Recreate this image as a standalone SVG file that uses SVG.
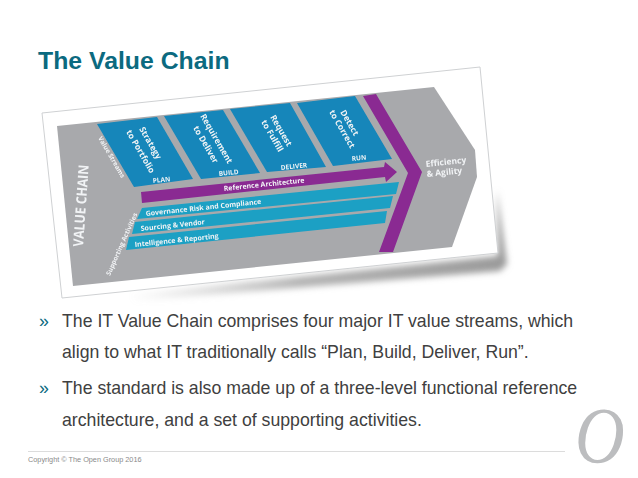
<svg xmlns="http://www.w3.org/2000/svg" width="638" height="478" viewBox="0 0 638 478">
<style>
text{font-family:"Liberation Sans",Arial,sans-serif}
.b{font-size:17.7px;fill:#404040}
.m{font-size:17.7px;fill:#0b6a80}
.o{font-family:"Open Sans","Noto Sans",sans-serif;font-weight:700;fill:#f1f3f5}
.stream{fill:#1286ba}
.bar{fill:#1ba0c4}
.pur{fill:#8a2a92}
</style>
<defs>
<filter id="sh" x="-10%" y="-20%" width="120%" height="140%"><feGaussianBlur stdDeviation="3"/></filter>
<filter id="soft" x="-5%" y="-5%" width="110%" height="110%"><feGaussianBlur stdDeviation="0.4"/></filter>
<linearGradient id="shg" x1="0" y1="0" x2="1" y2="0"><stop offset="0" stop-color="#bdbdbd" stop-opacity="0"/><stop offset="0.45" stop-color="#b4b4b4"/><stop offset="1" stop-color="#9a9a9a"/></linearGradient>
</defs>
<rect width="638" height="478" fill="#fff"/>
<text id="title" x="38" y="69" font-size="24.8" font-weight="700" fill="#0b6a80">The Value Chain</text>
<g id="card">
<polygon points="130,294 498,256 497,190 507,264 500,271 135,301" fill="url(#shg)" filter="url(#sh)"/>
<polygon points="42,113 480,67 498,253 62,298" fill="#fff" stroke="#cfd1d3" stroke-width="1"/>
<g filter="url(#soft)">
<g id="chain"><polygon points="57,126 434,87 475,150 477,177 452,247 73,286" fill="#a8a9ac"/>
<text class="o" font-size="14" font-weight="600" textLength="82" lengthAdjust="spacingAndGlyphs" transform="translate(83,247) rotate(-86)">VALUE CHAIN</text>
<text class="o" font-size="6.500" transform="translate(98,138) rotate(60)">Value Streams</text>
<text class="o" font-size="6.500" transform="translate(110,276) rotate(-66)">Supporting Activities</text></g>
<g id="plan"><polygon class="stream" points="97,124 157,117 193,179 134,187"/>
<text class="o" font-size="8.500" transform="translate(139,129) rotate(60)">Strategy</text>
<text class="o" font-size="8.500" transform="translate(126,132) rotate(60)">to Portfolio</text>
<text class="o" font-size="6.500" transform="translate(153,183) rotate(-6)">PLAN</text></g>
<g id="build"><polygon class="stream" points="164,116 223,110 260,173 201,179"/>
<text class="o" font-size="8.500" transform="translate(200,116) rotate(60)">Requirement</text>
<text class="o" font-size="8.500" transform="translate(193,128) rotate(60)">to Deliver</text>
<text class="o" font-size="6.500" transform="translate(219,176) rotate(-6)">BUILD</text></g>
<g id="deliver"><polygon class="stream" points="230,109 290,103 326,167 267,172"/>
<text class="o" font-size="8.500" transform="translate(270,117) rotate(60)">Request</text>
<text class="o" font-size="8.500" transform="translate(261,122) rotate(60)">to Fulfill</text>
<text class="o" font-size="6.500" transform="translate(281,170) rotate(-6)">DELIVER</text></g>
<g id="run"><polygon class="stream" points="297,103 355,96 392,159 333,166"/>
<text class="o" font-size="8.500" transform="translate(340,112) rotate(60)">Detect</text>
<text class="o" font-size="8.500" transform="translate(329,112) rotate(60)">to Correct</text>
<text class="o" font-size="6.500" transform="translate(352,161) rotate(-6)">RUN</text></g>
<g id="reference-architecture"><polygon class="pur" points="141,192 384,167 385,162 397,172 386,182 385,177 142,203"/>
<text class="o" font-size="7" transform="translate(224,191) rotate(-6)">Reference Architecture</text></g>
<g id="governance"><polygon class="bar" points="142,208 399,182 396,194 137,219"/>
<text class="o" font-size="7" transform="translate(146,216) rotate(-6)">Governance Risk and Compliance</text></g>
<g id="sourcing"><polygon class="bar" points="135,222 393,196 390,208 132,234"/>
<text class="o" font-size="7" transform="translate(141,231) rotate(-6)">Sourcing &amp; Vendor</text></g>
<g id="intelligence"><polygon class="bar" points="129,237 387,211 385,223 126,250"/>
<text class="o" font-size="7" transform="translate(135,247) rotate(-6)">Intelligence &amp; Reporting</text></g>
<g id="chevron"><polygon class="pur" points="363,96 376,94 422,172 393,252 379,252 408,173"/></g>
<g id="outcome"><text class="o" font-size="8.500" transform="translate(426,167) rotate(-6)">Efficiency</text>
<text class="o" font-size="8.500" transform="translate(427,177) rotate(-6)">&amp; Agility</text></g>
</g>
</g>
<g id="body">
<text class="m" x="39" y="326.500">»</text>
<text class="b" x="62" y="326.500">The IT Value Chain comprises four major IT value streams, which</text>
<text class="b" x="62" y="357.500">align to what IT traditionally calls “Plan, Build, Deliver, Run”.</text>
<text class="m" x="39" y="393.500">»</text>
<text class="b" x="62" y="393.500">The standard is also made up of a three-level functional reference</text>
<text class="b" x="62" y="425.500">architecture, and a set of supporting activities.</text>
</g>
<g id="footer">
<line x1="28" y1="451.500" x2="565" y2="451.500" stroke="#dcdcdc"/>
<text x="28" y="462" font-size="7.300" fill="#8a8a8a">Copyright © The Open Group 2016</text>
<text transform="translate(575,463) scale(.86,1)" font-style="italic" font-size="80" fill="#bcbdbf" style="font-family:'Liberation Serif',serif">O</text>
</g>
</svg>
